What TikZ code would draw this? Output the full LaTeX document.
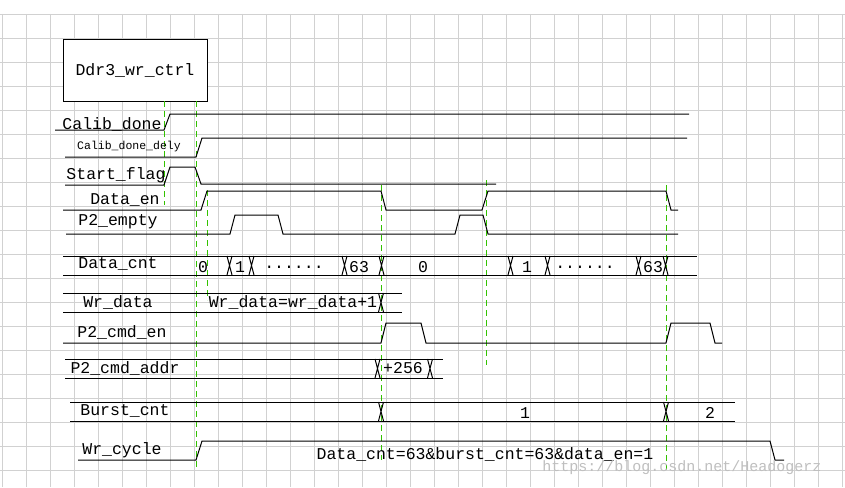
\documentclass[tikz,border=0pt]{standalone}
\usepackage{fontspec}
\setmonofont{Liberation Mono}
\usepackage{tikz}
\usetikzlibrary{positioning}

\newcommand{\busx}[3]{\draw[sig] (#1-2.5,#2) -- (#1+2.5,#3) (#1+2.5,#2) -- (#1-2.5,#3);}

\begin{document}
\begin{tikzpicture}[x=1pt,y=-1pt,
  sig/.style={black,line width=1pt},
  mark line/.style={green!70!black!80!yellow,dashed,line width=0.8pt,dash pattern=on 6pt off 4pt},
  name node/.style={font=\ttfamily\fontsize{16.5}{16.5}\selectfont,inner sep=0pt},
  val node/.style={font=\ttfamily\fontsize{16.5}{16.5}\selectfont,inner sep=0pt}]

  \useasboundingbox (0,0) rectangle (845,487);
  \fill[white] (0,0) rectangle (845,487);
  % grid
  \foreach \x in {2,26,...,842} \draw[black!18,line width=0.6pt] (\x,14) -- (\x,487);
  \foreach \y in {14,38,...,486} \draw[black!18,line width=0.6pt] (0,\y) -- (845,\y);

  \node[draw,sig,fill=white,minimum width=144pt,minimum height=61pt,font=\ttfamily\fontsize{16.5}{16.5}\selectfont] (ctrl) at (135,70.5) {Ddr3\_wr\_ctrl};

  % markers
  \draw[mark line] (164,101) -- (164,205);
  \draw[mark line] (196,101) -- (196,470);
  \draw[mark line] (207,190) -- (207,300);
  \draw[mark line] (381,185) -- (381,460);
  \draw[mark line] (486,180) -- (486,365);
  \draw[mark line] (666,185) -- (666,470);

  % labels
  \node[name node] (calib) at (112,124) {Calib\_done};
  \node[name node,font=\ttfamily\fontsize{11.5}{11.5}\selectfont] (dely) at (129,147) {Calib\_done\_dely};
  \node[name node] (start) at (116,175) {Start\_flag};
  \node[name node] (den) at (125,200) {Data\_en};
  \node[name node] (empty) at (118,222) {P2\_empty};
  \node[name node] (cnt) at (118,264) {Data\_cnt};
  \node[name node] (wrdata) at (118,302) {Wr\_data};
  \node[name node] (cmden) at (122,332) {P2\_cmd\_en};
  \node[name node] (cmdaddr) at (125,368) {P2\_cmd\_addr};
  \node[name node] (burst) at (125,411) {Burst\_cnt};
  \node[name node] (cycle) at (122,450) {Wr\_cycle};

  % waves
  \draw[sig] (55,130) -- (164,130) -- (170,114) -- (689,114);
  \draw[sig] (65,157) -- (196,157) -- (202,138) -- (687,138);
  \draw[sig] (65,185) -- (164,185) -- (170,167) -- (195,167) -- (201,184) -- (496,184);
  \draw[sig] (63,210) -- (201,210) -- (207,191) -- (381,191) -- (386,210) -- (482,210)
    -- (488,191) -- (666,191) -- (671,210) -- (678,210);
  \draw[sig] (66,234) -- (230,234) -- (235,215) -- (278,215) -- (283,234) -- (455,234)
    -- (460,215) -- (483,215) -- (488,234) -- (678,234);
  \draw[sig] (63,343) -- (381,343) -- (386,323) -- (421,323) -- (426,343) -- (666,343)
    -- (671,323) -- (710,323) -- (715,343) -- (722,343);
  \draw[sig] (78,460) -- (196,460) -- (202,441) -- (770,441) -- (775,460) -- (784,460);

  % buses
  \draw[sig] (63,256) -- (697,256) (63,275) -- (697,275);
  \foreach \x in {229.5,251.5,344.5,381.5,510.5,547.5,638.5,665.5} \busx{\x}{256}{275}
  \draw[sig] (63,293) -- (402,293) (63,312) -- (402,312);
  \busx{381}{293}{312}
  \draw[sig] (65,359) -- (443,359) (65,378) -- (443,378);
  \busx{377.5}{359}{378} \busx{430}{359}{378}
  \draw[sig] (70,402) -- (735,402) (70,421) -- (735,421);
  \busx{381}{402}{421} \busx{666}{402}{421}

  % values
  \node[val node] (c0) at (203,267) {0};
  \node[val node] (c1) at (240,267) {1};
  \node[val node] (cd) at (294,267) {......};
  \node[val node] (c63) at (359,267) {63};
  \node[val node] (c0b) at (423,267) {0};
  \node[val node] (c1b) at (527,267) {1};
  \node[val node] (cdb) at (585,267) {......};
  \node[val node] (c63b) at (653,267) {63};
  \node[val node] (wd) at (293,302) {Wr\_data=wr\_data+1};
  \node[val node] (addr) at (403,368) {+256};
  \node[val node] (b1) at (525,413) {1};
  \node[val node] (b2) at (710,413) {2};
  \node[val node] (cond) at (485,454) {Data\_cnt=63\&burst\_cnt=63\&data\_en=1};
  \node[val node,black!25,font=\ttfamily\fontsize{15}{15}\selectfont] (mark) at (682,468) {https://blog.csdn.net/Headogerz};
\end{tikzpicture}
\end{document}
